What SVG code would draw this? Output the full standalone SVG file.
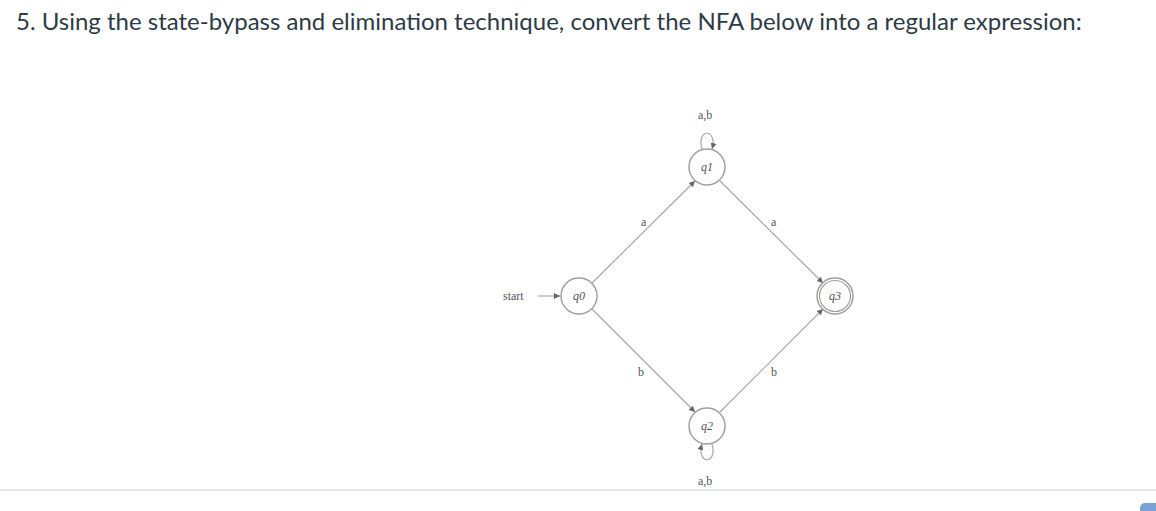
<svg xmlns="http://www.w3.org/2000/svg" width="1156" height="511" viewBox="0 0 1156 511">
<style>
.t{font-family:Lato,"Open Sans",sans-serif;font-size:24px;fill:#2d3b45}
.st{fill:#fff;stroke:#a0a0a0;stroke-width:1.5}
.l{font-family:"Liberation Serif",serif;font-size:12px;fill:#555}
.q{font-family:"Liberation Serif",serif;font-style:italic;font-size:12px;fill:#555;text-anchor:middle}
.e{fill:none;stroke:#a8a8a8;stroke-width:1.2;marker-end:url(#ah)}
</style>
<defs><marker id="ah" markerWidth="6" markerHeight="6" refX="5" refY="3" orient="auto"><path d="M0,0.5 L5,3 L0,5.5z" fill="#666"/></marker></defs>
<rect width="1156" height="511" fill="#fff"/>
<text class="t" x="16" y="30">5. Using the state-bypass and elimination technique, convert the NFA below into a regular expression:</text>
<g id="connectors">
<path class="e" d="M538,296 L560,296"/>
<path class="e" d="M592,283 L695,181"/>
<path class="e" d="M720,181 L823,283"/>
<path class="e" d="M592,309 L695,412"/>
<path class="e" d="M720,412 L823,309"/>
<path class="e" d="M702,149 C696,128 718,128 712,149"/>
<path class="e" d="M712,444 C718,465 696,465 702,444"/>
<text class="l" x="698" y="119">a,b</text>
<text class="l" x="641" y="226">a</text>
<text class="l" x="771" y="226">a</text>
<text class="l" x="638" y="376">b</text>
<text class="l" x="771" y="376">b</text>
<text class="l" x="698" y="485">a,b</text>
<text class="l" x="503" y="300">start</text>
</g>
<g id="q0"><circle class="st" cx="579" cy="296" r="18"/><text class="q" x="579" y="300">q0</text></g>
<g id="q1"><circle class="st" cx="707" cy="167" r="18"/><text class="q" x="707" y="171">q1</text></g>
<g id="q2"><circle class="st" cx="707" cy="426" r="18"/><text class="q" x="707" y="430">q2</text></g>
<g id="q3"><circle class="st" cx="835" cy="296" r="18"/><circle fill="none" stroke="#a0a0a0" stroke-width="1.2" cx="835" cy="296" r="15.5"/><text class="q" x="835" y="300">q3</text></g>
<line x1="0" y1="490" x2="1156" y2="490" stroke="#c7cdd1" stroke-width="1"/>
<rect x="1140" y="503" width="30" height="20" rx="5" fill="#7aa2d6"/>
</svg>
